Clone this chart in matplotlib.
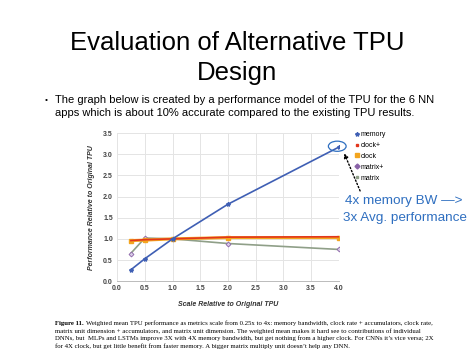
import numpy as np
import matplotlib
matplotlib.use("Agg")
import matplotlib.pyplot as plt
from matplotlib.patches import Ellipse
from matplotlib.lines import Line2D

plt.rcParams['font.family'] = ['Liberation Sans', 'DejaVu Sans']

# data
scale = [0.25, 0.5, 1.0, 2.0, 4.0]
memory = [0.27, 0.53, 1.0, 1.82, 3.17]
clock_plus = [0.96, 0.98, 1.0, 1.04, 1.05]
clock = [0.96, 0.97, 1.0, 1.03, 1.03]
matrix_plus = [0.65, 1.02, 1.0, 0.88, 0.75]
matrix = [0.66, 1.02, 1.0, 0.89, 0.75]

series_names = ['memory', 'clock+', 'clock', 'matrix+', 'matrix']
xticks = [0.0, 0.5, 1.0, 1.5, 2.0, 2.5, 3.0, 3.5, 4.0]
yticks = [0.0, 0.5, 1.0, 1.5, 2.0, 2.5, 3.0, 3.5]

caption = [
    "Weighted mean TPU performance as metrics scale from 0.25x to 4x: memory bandwidth, clock rate + accumulators, clock rate,",
    "matrix unit dimension + accumulators, and matrix unit dimension. The weighted mean makes it hard see to contributions of individual",
    "DNNs, but  MLPs and LSTMs improve 3X with 4X memory bandwidth, but get nothing from a higher clock. For CNNs it\u2019s vice versa; 2X",
    "for 4X clock, but get little benefit from faster memory. A bigger matrix multiply unit doesn\u2019t help any DNN.",
]

fig = plt.figure(figsize=(4.74, 3.55), dpi=100)
ax = fig.add_axes([0.247, 0.208, 0.468, 0.417])

c_mem = '#3f5fb4'
c_clkp = '#e2361c'
c_clk = '#f3a51f'
c_matp = '#8a63a8'
c_mat = '#8f9f88'

ax.plot(scale, matrix, '-', color=c_mat, lw=1.2, zorder=2)
ax.plot(scale, matrix_plus, 'D', color=c_matp, mfc='#d8cce6', ms=2.5, mew=0.6, zorder=3)
ax.plot(scale, clock, '-s', color=c_clk, lw=2.2, ms=2.5, zorder=3)
ax.plot(scale, clock_plus, '-', color=c_clkp, lw=1.2, zorder=4)
ax.plot(scale, memory, '-*', color=c_mem, lw=1.2, ms=3, zorder=5)

ax.set_xlim(0, 4.0)
ax.set_ylim(0, 3.5)
ax.set_xticks(xticks)
ax.set_yticks(yticks)
ax.set_xticklabels([f"{v:.1f}" for v in xticks])
ax.set_yticklabels([f"{v:.1f}" for v in yticks])
ax.tick_params(length=0, labelsize=5, colors='#444444', pad=3)
for lab in ax.get_xticklabels() + ax.get_yticklabels():
    lab.set_fontweight('bold')
ax.grid(True, color='#e4e4e4', lw=0.7)
ax.set_axisbelow(True)
for s in ['top', 'right', 'left']:
    ax.spines[s].set_visible(False)
ax.spines['bottom'].set_color('#bbbbbb')
ax.spines['bottom'].set_linewidth(0.7)

ax.set_xlabel('Scale Relative to Original TPU', fontsize=5, fontweight='bold',
              fontstyle='italic', color='#333333', labelpad=6)
ax.set_ylabel('Performance Relative to Original TPU', fontsize=5, fontweight='bold',
              fontstyle='italic', color='#333333', labelpad=6)

# circle around the 4x memory point
ax.add_patch(Ellipse((3.97, memory[-1] + 0.02), 0.32, 0.24, fill=False,
                     edgecolor='#2f6fc0', lw=0.9, zorder=6, clip_on=False))

# legend
leg_colors = [c_mem, c_clkp, c_clk, c_matp, c_mat]
leg_markers = ['*', 's', 's', 'D', 's']
leg_sizes = [3, 2, 3.5, 2.5, 2]
handles = [Line2D([], [], ls='none', marker=m, color=c, ms=s)
           for m, c, s in zip(leg_markers, leg_colors, leg_sizes)]
fig.legend(handles, series_names, loc='upper left', bbox_to_anchor=(0.742, 0.638),
           frameon=False, fontsize=5, handlelength=0.6, handletextpad=0.3,
           labelspacing=0.55, borderaxespad=0)

# annotation
fig.text(0.727, 0.435, '4x memory BW \u2014>', fontsize=9.7, color='#2f6fc0', ha='left', va='center')
fig.text(0.724, 0.387, '3x Avg. performance', fontsize=9.7, color='#2f6fc0', ha='left', va='center')
ax.annotate('', xy=(0.724, 0.575), xycoords='figure fraction',
            xytext=(0.762, 0.455), textcoords='figure fraction',
            arrowprops=dict(arrowstyle='-|>', ls=(0, (1, 1.5)), color='black',
                            lw=1.0, mutation_scale=6))

# slide title and bullet
fig.text(0.5, 0.878, 'Evaluation of Alternative TPU', fontsize=18.5, ha='center', va='center')
fig.text(0.5, 0.793, 'Design', fontsize=18.5, ha='center', va='center')
fig.text(0.094, 0.718, '\u2022', fontsize=6, ha='left', va='center')
fig.text(0.116, 0.718, 'The graph below is created by a performance model of the TPU for the 6 NN',
         fontsize=8.0, ha='left', va='center')
fig.text(0.116, 0.682, 'apps which is about 10% accurate compared to the existing TPU results.',
         fontsize=8.0, ha='left', va='center')

# figure caption
cap_y = [0.090, 0.068, 0.046, 0.025]
cap_fs = 4.9
head = fig.text(0.116, cap_y[0], 'Figure 11.', fontsize=cap_fs, fontweight='bold',
                family='Liberation Serif', ha='left', va='center')
renderer = fig.canvas.get_renderer()
bb = head.get_window_extent(renderer)
fig.text(bb.x1 / fig.bbox.width + 0.005, cap_y[0], caption[0], fontsize=cap_fs,
         family='Liberation Serif', ha='left', va='center')
for line, y in zip(caption[1:], cap_y[1:]):
    fig.text(0.116, y, line, fontsize=cap_fs, family='Liberation Serif', ha='left', va='center')

fig.savefig('out.png', dpi=100)
